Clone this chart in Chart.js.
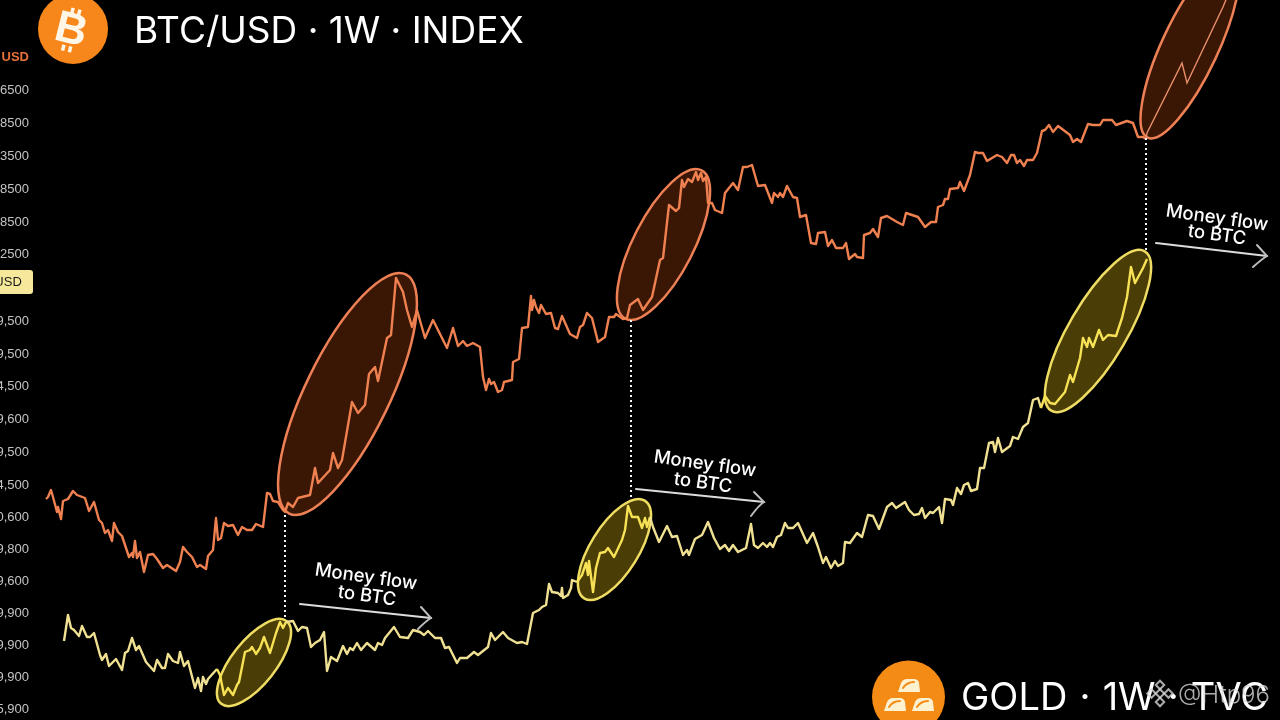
<!DOCTYPE html>
<html>
<head>
<meta charset="utf-8">
<title>BTC/USD vs GOLD</title>
<style>html,body{margin:0;padding:0;background:#000;overflow:hidden}canvas{display:block}</style>
<script src="https://cdn.jsdelivr.net/npm/chart.js@4/dist/chart.umd.min.js"></script>
</head>
<body>
<canvas id="c" width="1280" height="720"></canvas>
<script>
/* ---- series: position along the time axis, and index level ---- */
const btcTime = [
46,48,51,53,57,58,61,63,68,73,77,85,89,94,99,102,105,108,112,114,
118,122,129,132,133,135,137,140,144,148,153,157,163,167,176,180,183,187,192,197,
200,206,208,213,216,218,221,224,228,233,238,242,247,252,256,263,267,270,273,278,
283,285,288,293,298,310,315,318,330,333,338,342,352,358,365,369,375,378,387,391,
396,403,407,412,417,425,433,447,453,458,463,467,473,480,483,486,489,491,494,498,
502,504,512,513,519,522,528,531,532,534,536,539,541,546,551,555,558,562,570,577,
580,583,587,592,598,605,609,614,616,623,627,630,638,643,652,660,663,669,676,679,
682,684,688,692,696,698,701,703,706,708,712,715,722,725,733,738,743,747,752,758,
765,772,774,778,780,783,787,793,797,800,806,811,816,818,825,828,832,836,843,846,
849,855,857,863,864,870,873,878,881,887,897,903,906,918,925,931,936,938,943,945,
948,950,958,960,964,970,975,978,983,987,997,1002,1007,1011,1014,1017,1020,1024,1027,1033,
1037,1042,1045,1049,1053,1058,1070,1073,1077,1081,1088,1093,1100,1103,1112,1116,1127,1133,1138,1143,
1146];
const btcLevel = [
221,223,230,223,208,213,201,219,221,229,225,222,209,218,200,197,187,190,179,197,
188,184,163,167,163,179,162,168,148,165,166,161,152,155,149,158,173,168,163,153,
155,151,164,170,202,180,182,197,194,195,185,193,190,190,196,193,227,226,219,218,
210,208,217,213,222,225,252,237,250,267,252,260,318,307,315,346,353,339,382,385,
442,428,410,393,410,382,400,372,392,374,379,374,377,373,343,330,341,336,338,328,
330,338,340,358,361,392,393,424,410,420,413,407,415,406,407,392,391,404,386,382,
393,395,407,402,378,383,403,403,406,401,402,415,421,410,423,460,462,515,509,512,
540,533,541,538,548,540,547,539,543,517,517,510,507,527,537,530,553,553,555,534,
535,517,527,523,527,523,534,523,522,503,505,477,476,487,488,474,480,472,472,477,
461,466,463,462,485,487,491,483,502,504,498,495,507,503,493,498,498,513,515,521,
521,531,532,538,529,545,568,567,567,559,565,563,557,565,565,557,560,554,560,560,
567,589,590,595,588,594,585,578,581,578,596,595,595,600,600,595,599,597,583,583,
581];
const btcBreakoutTime = [1146,1147,1182,1187,1223,1230];
const btcBreakoutLevel = [581,587,657,637,713,730];

const goldTime = [
64,68,71,74,79,82,87,90,94,100,102,106,109,116,122,125,128,132,136,139,
146,154,157,162,165,168,173,178,180,184,188,195,198,201,203,206,208,217,220,224,
228,233,237,239,245,250,252,256,260,264,270,276,280,283,286,293,298,302,307,311,
315,320,324,327,331,337,343,347,350,353,357,361,367,375,378,382,385,394,400,408,
413,420,424,428,435,441,445,449,457,460,467,474,478,488,491,495,503,508,517,522,
527,533,539,542,546,549,552,558,561,562,563,568,571,572,577,582,586,588,589,593,
596,600,605,608,614,622,625,628,632,638,642,645,647,650,653,659,667,672,677,683,
687,689,695,702,708,714,720,725,729,733,738,746,751,754,758,763,767,770,773,777,
781,785,788,793,798,807,813,818,823,826,831,835,838,843,845,850,857,862,868,873,
879,887,892,896,905,909,914,919,922,925,930,933,939,942,945,951,953,957,961,964,
968,971,977,980,984,989,993,995,998,1002,1010,1013,1018,1023,1028,1033,1038,1041,1045,1050,
1055,1065,1070,1073,1080,1083,1087,1089,1093,1099,1103,1108,1116,1122,1127,1131,1135,1143,1147];
const goldLevel = [
79,105,92,90,84,94,83,83,87,65,60,66,54,61,50,67,69,82,70,74,
58,49,60,52,52,66,59,57,68,54,59,32,42,29,43,36,41,51,45,25,
32,25,35,38,68,70,73,66,72,83,67,87,98,92,98,99,89,93,92,73,
77,80,88,49,63,59,74,66,72,70,77,70,77,70,77,75,82,93,83,82,
90,88,85,89,82,82,72,73,57,62,62,68,65,73,87,80,88,82,77,78,
76,107,110,113,115,136,128,127,124,132,122,125,132,140,138,145,157,145,159,128,
152,167,168,172,163,180,190,214,203,203,192,202,193,203,193,178,194,183,184,165,
170,165,181,185,198,182,171,175,169,175,168,172,196,175,172,177,173,177,173,183,
185,197,192,192,197,177,187,173,157,163,152,159,154,157,178,177,187,183,205,204,
191,213,217,212,218,210,205,206,212,202,208,207,213,197,221,220,215,232,226,235,
237,229,231,252,252,277,278,268,282,268,274,283,281,293,297,320,322,312,324,317,
316,328,345,338,362,382,373,382,373,390,380,385,384,402,423,453,437,452,461];

/* ---- price axis: what is legible in the picture (left side is cropped) ---- */
const tickLevels = [663,630,597,564,531,498,466,438,399,366,334,301,268,235,203,171,139,107,75,43,11];
const tickLabels = ['USD','6500','8500','3500','8500','8500','2500','USD  ','9,500','9,500','4,500','9,600','9,500','4,500','0,600','9,800','9,600','9,900','9,900','9,900','5,900'];

/* ---- annotations ---- */
const dottedTimes  = [285,631,1146];
const dottedFrom   = [205,400,582];
const dottedTo     = [101,221,470];
/* ellipse: time, level, long radius, short radius, tilt in degrees */
const btcEllipses  = [[347.5,326,133,42,64],[663.5,475.5,83.4,30,62.8],[1190,673,100,28,64.9]];
const goldEllipses = [[254,57.5,52.7,22,51.6],[614.5,170.5,57.5,24,58.2],[1098,389,92.4,29,59.6]];
/* arrow: start, tip, upper barb, lower barb as [time, level] */
const flowArrows = [
  [[300,116],[431,102],[421,113],[418,91]],
  [[636,231],[764,218],[754,228],[751,204]],
  [[1156,477],[1267,464],[1257,475],[1253,453]]
];
/* label: line 1 centre, line 2 centre */
const flowLabels = [
  [[366,143],[367,124]],
  [[705,256],[703,237]],
  [[1217,502],[1217,485]]
];
const flowLine1 = 'Money flow', flowLine2 = 'to BTC';
const titleTop = 'BTC/USD · 1W · INDEX';
const titleBottom = 'GOLD · 1W · TVC';
const watermark = '@Htp96';

const ORANGE = '#ef8150', GOLD_PALE = '#efe092', GOLD_BRIGHT = '#f7e155';
const pairs = (xs, ys) => xs.map((x, i) => ({x, y: ys[i]}));
const insideGoldOval = x => (x >= 220 && x <= 286) || (x >= 578 && x <= 651) || (x >= 1045 && x <= 1147);

const annotations = {
  id: 'annotations',
  beforeDraw(chart) {
    /* rounded badge behind the axis label that marks the current price */
    const {ctx, scales: {y}} = chart;
    const cy = y.getPixelForValue(tickLevels[7]);
    ctx.save();
    ctx.fillStyle = '#f6e89a';
    ctx.beginPath();
    ctx.roundRect(-6, cy - 12, 39, 24, 3);
    ctx.fill();
    ctx.restore();
  },
  beforeDatasetsDraw(chart) {
    const {ctx, scales: {x, y}} = chart;
    const oval = (e, fill, stroke) => {
      ctx.save();
      ctx.translate(x.getPixelForValue(e[0]), y.getPixelForValue(e[1]));
      ctx.rotate(-e[4] * Math.PI / 180);
      ctx.beginPath();
      ctx.ellipse(0, 0, e[2], e[3], 0, 0, Math.PI * 2);
      ctx.fillStyle = fill; ctx.fill();
      ctx.strokeStyle = stroke; ctx.lineWidth = 2.5; ctx.stroke();
      ctx.restore();
    };
    btcEllipses.forEach(e => oval(e, '#3a1605', '#ee8055'));
    goldEllipses.forEach(e => oval(e, '#4a3e06', '#efdc62'));
  },
  afterDatasetsDraw(chart) {
    const {ctx, scales: {x, y}} = chart;
    const P = p => [x.getPixelForValue(p[0]), y.getPixelForValue(p[1])];
    ctx.save();
    /* arrows */
    flowArrows.forEach(a => {
      const [s, t, u, l] = a.map(P);
      ctx.strokeStyle = '#dcdcdc'; ctx.lineWidth = 2; ctx.lineCap = 'round';
      ctx.beginPath(); ctx.moveTo(s[0], s[1]); ctx.lineTo(t[0], t[1]); ctx.stroke();
      ctx.strokeStyle = '#bdbdbd';
      ctx.beginPath(); ctx.moveTo(u[0], u[1]); ctx.lineTo(t[0], t[1]);
      ctx.quadraticCurveTo(t[0] - 5, t[1] + 3, l[0], l[1]); ctx.stroke();
    });
    /* flow labels */
    ctx.fillStyle = '#ffffff'; ctx.textAlign = 'center'; ctx.textBaseline = 'middle';
    ctx.font = '500 18.5px Inter, "Liberation Sans", sans-serif';
    flowLabels.forEach(pair => {
      [[pair[0], flowLine1], [pair[1], flowLine2]].forEach(([p, txt]) => {
        const c = P(p);
        ctx.save(); ctx.translate(c[0], c[1]); ctx.rotate(8 * Math.PI / 180);
        ctx.fillText(txt, 0, 0); ctx.restore();
      });
    });
    /* bitcoin badge */
    ctx.fillStyle = '#f7871b';
    ctx.beginPath(); ctx.arc(73, 29, 35, 0, Math.PI * 2); ctx.fill();
    ctx.save(); ctx.translate(71, 30); ctx.rotate(14 * Math.PI / 180);
    ctx.fillStyle = '#fff6e8';
    ctx.font = 'bold 44px "Liberation Sans", sans-serif';
    ctx.textAlign = 'center'; ctx.textBaseline = 'middle';
    ctx.fillText('B', 0, 1);
    ctx.fillRect(-5, -22, 3.5, 6); ctx.fillRect(2, -22, 3.5, 6);
    ctx.fillRect(-5, 16, 3.5, 6); ctx.fillRect(2, 16, 3.5, 6);
    ctx.restore();
    /* titles */
    ctx.fillStyle = '#ffffff'; ctx.textAlign = 'left'; ctx.textBaseline = 'alphabetic';
    ctx.font = '400 37px Inter, Roboto, sans-serif';
    ctx.fillText(titleTop, 134, 43);
    /* gold badge */
    ctx.fillStyle = '#f38b14';
    ctx.beginPath(); ctx.arc(908.5, 697, 36.5, 0, Math.PI * 2); ctx.fill();
    const bar = (l, t) => {
      ctx.fillStyle = '#fdf1cf';
      ctx.beginPath();
      ctx.moveTo(l, t + 13); ctx.lineTo(l + 3, t + 4);
      ctx.quadraticCurveTo(l + 5, t, l + 9, t);
      ctx.lineTo(l + 16, t); ctx.quadraticCurveTo(l + 20, t, l + 21, t + 4);
      ctx.lineTo(l + 22, t + 13); ctx.closePath(); ctx.fill();
      ctx.strokeStyle = '#f38b14'; ctx.lineWidth = 2;
      ctx.beginPath(); ctx.moveTo(l + 5, t + 9); ctx.quadraticCurveTo(l + 9, t + 3, l + 16, t + 3); ctx.stroke();
    };
    bar(898, 679); bar(884, 698); bar(912, 698);
    ctx.fillStyle = '#ffffff';
    ctx.font = '400 38px Inter, Roboto, sans-serif';
    ctx.wordSpacing = '1.5px';
    ctx.fillText(titleBottom, 961, 710);
    ctx.wordSpacing = '0px';
    /* watermark */
    ctx.fillStyle = '#bdbdbd'; ctx.globalAlpha = 0.8;
    ctx.translate(1160, 693.5); ctx.rotate(Math.PI / 4);
    [[-9, -9], [3, -9], [-9, 3], [3, 3], [-3, -3]].forEach(([a, b]) => {
      ctx.strokeStyle = '#d6d6d6'; ctx.lineWidth = 2; ctx.strokeRect(a, b, 6, 6);
    });
    ctx.setTransform(1, 0, 0, 1, 0, 0);
    ctx.font = '300 24px Inter, Roboto, sans-serif';
    ctx.fillStyle = '#d8d8d8';
    ctx.fillText(watermark, 1178, 703);
    ctx.restore();
  }
};

new Chart(document.getElementById('c'), {
  type: 'scatter',
  plugins: [annotations],
  data: {
    datasets: [
      ...dottedTimes.map((t, i) => ({
        data: pairs([t, t], [dottedFrom[i], dottedTo[i]]),
        showLine: true, borderColor: '#f5f5f5', borderWidth: 2, borderDash: [2, 3],
        pointRadius: 0
      })),
      { label: 'BTC/USD', data: pairs(btcTime, btcLevel), showLine: true, borderColor: ORANGE,
        borderWidth: 2.4, pointRadius: 0, tension: 0, borderJoinStyle: 'round' },
      { label: 'BTC/USD breakout', data: pairs(btcBreakoutTime, btcBreakoutLevel), showLine: true,
        borderColor: '#e9906a', borderWidth: 1.4, pointRadius: 0, tension: 0 },
      { label: 'GOLD', data: pairs(goldTime, goldLevel), showLine: true, borderColor: GOLD_PALE,
        borderWidth: 2.4, pointRadius: 0, tension: 0, borderJoinStyle: 'round',
        segment: { borderColor: c => insideGoldOval(c.p1.parsed.x) ? GOLD_BRIGHT : GOLD_PALE } }
    ]
  },
  options: {
    responsive: false,
    animation: false,
    events: [],
    layout: { padding: 0 },
    plugins: { legend: { display: false }, tooltip: { enabled: false }, title: { display: false } },
    scales: {
      x: { type: 'linear', min: 30, max: 1280, display: false },
      y: {
        type: 'linear', min: 0, max: 720, position: 'left',
        grid: { display: false, drawTicks: false },
        border: { display: false },
        afterBuildTicks: s => { s.ticks = tickLevels.map(value => ({ value })); },
        afterFit: s => { s.width = 30; s.paddingTop = 0; s.paddingBottom = 0; },
        ticks: {
          autoSkip: false, padding: 1,
          font: c => ({ family: '"Liberation Sans", sans-serif', size: 13, weight: c.index === 0 ? 'bold' : 'normal' }),
          color: c => c.index === 0 ? '#e8703a' : (c.index === 7 ? '#1a1a1a' : '#c4c4c4'),
          callback: (v, i) => tickLabels[i]
        }
      }
    }
  }
});
</script>
</body>
</html>
